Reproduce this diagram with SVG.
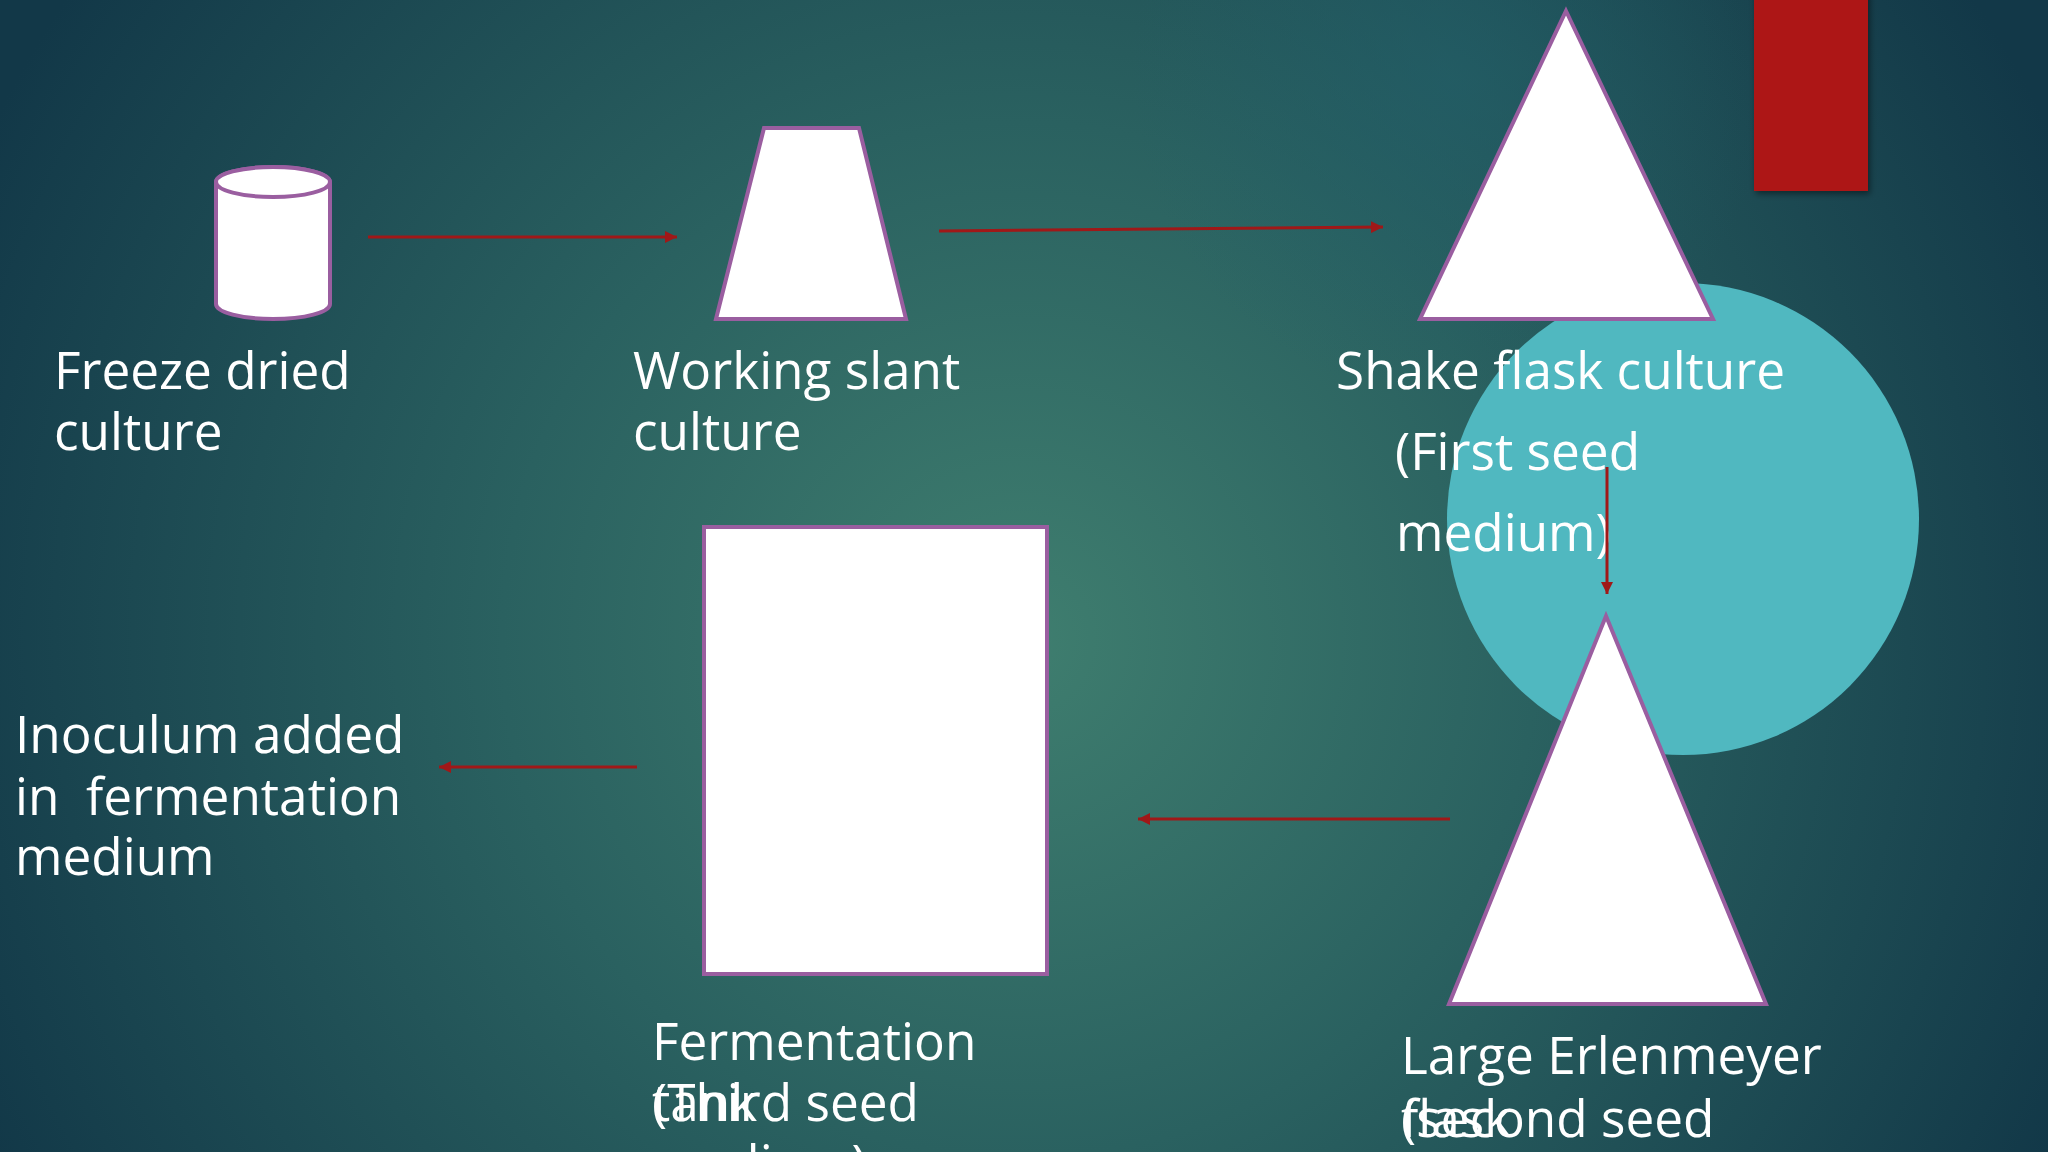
<svg xmlns="http://www.w3.org/2000/svg" width="2048" height="1152" viewBox="0 0 2048 1152">
  <defs>
    <radialGradient id="bg" cx="1020" cy="640" r="1150" gradientUnits="userSpaceOnUse">
      <stop offset="0" stop-color="#3f7e6f"/>
      <stop offset="0.45" stop-color="#2a6160"/>
      <stop offset="1" stop-color="#123848"/>
    </radialGradient>
    <radialGradient id="glow" cx="1450" cy="80" r="320" gradientUnits="userSpaceOnUse">
      <stop offset="0" stop-color="#22606a" stop-opacity="0.6"/>
      <stop offset="1" stop-color="#22606a" stop-opacity="0"/>
    </radialGradient>
    <filter id="shadow" x="-20%" y="-20%" width="140%" height="140%">
      <feDropShadow dx="2" dy="3" stdDeviation="3" flood-color="#000" flood-opacity="0.45"/>
    </filter>
    <marker id="arrow" viewBox="0 0 10 10" refX="10" refY="5" markerWidth="12" markerHeight="12" markerUnits="userSpaceOnUse" orient="auto">
      <path d="M0,0 L10,5 L0,10 z" fill="#a01818"/>
    </marker>
    <style>
      .shape { fill: #ffffff; stroke: #9a5ea0; stroke-width: 4; stroke-linejoin: miter; }
      .lbl { font-family: "Open Sans", "Noto Sans", "DejaVu Sans", sans-serif; font-size: 51.3px; fill: #ffffff; }
      .conn { stroke: #a01818; stroke-width: 3; fill: none; marker-end: url(#arrow); }
    </style>
  </defs>

  <rect x="0" y="0" width="2048" height="1152" fill="url(#bg)"/>
  <rect x="0" y="0" width="2048" height="1152" fill="url(#glow)"/>

  <!-- decorations -->
  <circle id="deco-circle" cx="1683" cy="519" r="236" fill="#50b8c0"/>
  <rect id="deco-bar" x="1754" y="-10" width="114" height="201" fill="#ad1614" filter="url(#shadow)"/>

  <g id="freeze-dried">
    <path class="shape" d="M216,182 L216,304 A57,15 0 0 0 330,304 L330,182 A57,15 0 0 0 216,182 Z"/>
    <ellipse class="shape" cx="273" cy="182" rx="57" ry="15"/>
    <text class="lbl"><tspan x="54" y="389">Freeze dried</tspan><tspan x="54" y="450">culture</tspan></text>
  </g>

  <g id="working-slant">
    <polygon class="shape" points="764,128 859,128 906,319 716,319"/>
    <text class="lbl"><tspan x="633" y="389">Working slant</tspan><tspan x="633" y="450">culture</tspan></text>
  </g>

  <g id="shake-flask">
    <polygon class="shape" points="1566,11 1713,319 1420,319"/>
    <text class="lbl"><tspan x="1336" y="389">Shake flask culture</tspan><tspan x="1395" y="470">(First seed</tspan><tspan x="1396" y="551">medium)</tspan></text>
  </g>

  <g id="erlenmeyer">
    <polygon class="shape" points="1606,616 1766,1004 1449,1004"/>
    <text class="lbl" x="1401" y="1074">Large Erlenmeyer</text>
    <text class="lbl" x="1401" y="1137">flask</text>
    <text class="lbl" x="1401" y="1137">(second seed</text>
  </g>

  <g id="fermentation">
    <rect class="shape" x="704" y="527" width="343" height="447"/>
    <text class="lbl" x="652" y="1060">Fermentation</text>
    <text class="lbl" x="652" y="1121">tank</text>
    <text class="lbl"><tspan x="652" y="1121">(Third seed</tspan><tspan x="652" y="1182">medium)</tspan></text>
  </g>

  <g id="inoculum">
    <text class="lbl"><tspan x="15" y="753">Inoculum added</tspan><tspan x="15" y="815" xml:space="preserve">in  fermentation</tspan><tspan x="15" y="875">medium</tspan></text>
  </g>

  <g id="connectors">
    <line class="conn" x1="368" y1="237" x2="677" y2="237"/>
    <line class="conn" x1="939" y1="231" x2="1383" y2="227"/>
    <line class="conn" x1="1607" y1="467" x2="1607" y2="594"/>
    <line class="conn" x1="1450" y1="819" x2="1138" y2="819"/>
    <line class="conn" x1="637" y1="767" x2="439" y2="767"/>
  </g>
</svg>
